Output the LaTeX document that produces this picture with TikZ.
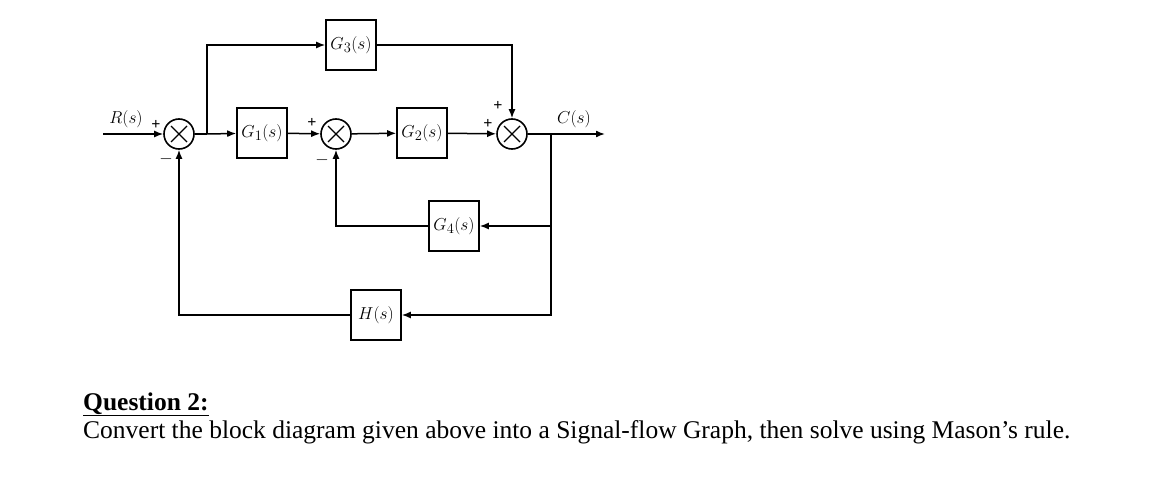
\documentclass[tikz,border=0pt]{standalone}
\usepackage{fontspec}
\setmainfont{Liberation Serif}
\usetikzlibrary{arrows.meta}
\begin{document}
\begin{tikzpicture}[x=1pt,y=-1pt,
  blk/.style={draw,line width=1.6pt,minimum width=50pt,minimum height=50pt,inner sep=0pt,font=\fontsize{19}{19}\selectfont},
  sum/.style={draw,line width=1.6pt,circle,minimum size=30pt,inner sep=0pt,path picture={\draw[line width=1.4pt] (path picture bounding box.north west)++(7,7)--([shift={(-7,-7)}]path picture bounding box.south east);\draw[line width=1.4pt] ([shift={(7,-7)}]path picture bounding box.south west)--([shift={(-7,7)}]path picture bounding box.north east);}},
  ln/.style={line width=1.5pt},
  ar/.style={ln,-{Latex[length=9pt,width=7pt]}},
  lab/.style={font=\fontsize{17}{17}\selectfont,inner sep=1pt},
  sg/.style={font=\fontsize{16}{16}\selectfont\bfseries,inner sep=0pt}]
\useasboundingbox (0,0) rectangle (1168,484);
\node[sum] (s1) at (179,134) {};
\node[sum] (s2) at (336,134) {};
\node[sum] (s3) at (512,134) {};
\node[blk] (g1) at (262,133) {$G_1(s)$};
\node[blk] (g2) at (422,133) {$G_2(s)$};
\node[blk] (g3) at (351,45) {$G_3(s)$};
\node[blk] (g4) at (454,226) {$G_4(s)$};
\node[blk] (h) at (376,315) {$H(s)$};
\coordinate (rin) at (103,134);
\coordinate (cout) at (605,134);
\coordinate (b1) at (207,134);
\coordinate (b2) at (551,134);
\draw[ar] (rin) -- (s1);
\draw[ln] (s1) -- (b1);
\draw[ar] (b1) -- (g1);
\draw[ar] (b1) |- (g3);
\draw[ar] (g3) -| (s3);
\draw[ar] (g1) -- (s2);
\draw[ar] (s2) -- (g2);
\draw[ar] (g2) -- (s3);
\draw[ar] (s3) -- (cout);
\draw[ar] (b2) |- (g4);
\draw[ar] (b2) |- (h);
\draw[ar] (g4) -| (s2);
\draw[ar] (h) -| (s1);
\node[lab] at (126,119) {$R(s)$};
\node[lab] at (574,119) {$C(s)$};
\node[sg] at (156,125) {+};
\node[sg] at (166,159) {$-$};
\node[sg] at (312,123) {+};
\node[sg] at (322,160) {$-$};
\node[sg] at (488,124) {+};
\node[sg] at (498,106) {+};
\node[anchor=base west,inner sep=0pt,font=\fontsize{25.5}{25.5}\selectfont\bfseries] at (83,410) {\underline{Question 2:}};
\node[anchor=base west,inner sep=0pt,font=\fontsize{25.5}{25.5}\selectfont] at (83,438) {Convert the block diagram given above into a Signal-flow Graph, then solve using Mason’s rule.};
\end{tikzpicture}
\end{document}
